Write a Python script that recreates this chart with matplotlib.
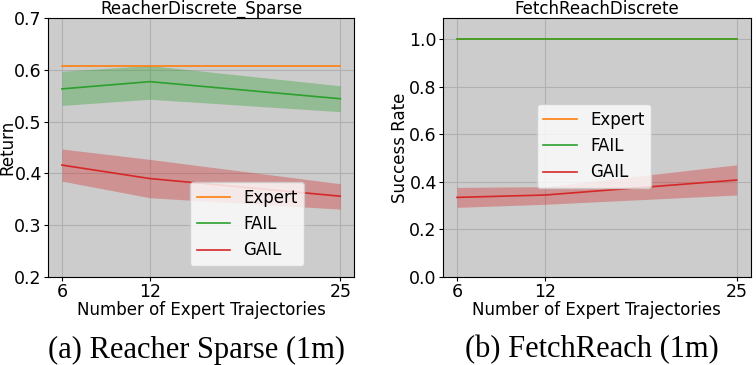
import matplotlib
matplotlib.use("Agg")
import matplotlib.pyplot as plt

# x positions (number of expert trajectories)
N_TRAJ = [6, 12, 25]

# Reacher Sparse (1m)
REACHER_EXPERT = [0.607, 0.607, 0.607]
REACHER_FAIL = [0.563, 0.577, 0.544]
REACHER_FAIL_LO = [0.531, 0.543, 0.519]
REACHER_FAIL_HI = [0.597, 0.608, 0.569]
REACHER_GAIL = [0.416, 0.390, 0.356]
REACHER_GAIL_LO = [0.385, 0.353, 0.331]
REACHER_GAIL_HI = [0.447, 0.427, 0.380]

# FetchReach (1m)
FETCH_EXPERT = [1.0, 1.0, 1.0]
FETCH_FAIL = [1.0, 1.0, 1.0]
FETCH_GAIL = [0.335, 0.345, 0.408]
FETCH_GAIL_LO = [0.293, 0.306, 0.345]
FETCH_GAIL_HI = [0.377, 0.380, 0.472]

ORANGE, GREEN, RED = "#ff7f0e", "#2ca02c", "#d62728"


def style_axes(ax, title, ylabel, label_x):
    ax.set_facecolor("#cccccc")
    ax.grid(True, color="#b0b0b0", linewidth=0.8)
    ax.set_axisbelow(True)
    ax.set_title(title, fontsize=12, pad=2)
    ax.set_ylabel(ylabel, fontsize=12)
    ax.yaxis.set_label_coords(label_x, 0.5)
    ax.set_xlabel("Number of Expert Trajectories", fontsize=12, labelpad=0)
    ax.set_xticks(N_TRAJ)
    ax.tick_params(labelsize=12.5, length=3, pad=1.5)


fig = plt.figure(figsize=(7.56, 3.65), dpi=100)
ax1 = fig.add_axes([0.0635, 0.241, 0.405, 0.710])
ax2 = fig.add_axes([0.586, 0.241, 0.407, 0.710])

# left panel
ax1.plot(N_TRAJ, REACHER_EXPERT, color=ORANGE, lw=1.2, label="Expert")
ax1.plot(N_TRAJ, REACHER_FAIL, color=GREEN, lw=1.2, label="FAIL")
ax1.fill_between(N_TRAJ, REACHER_FAIL_LO, REACHER_FAIL_HI, color=GREEN, alpha=0.35, lw=0)
ax1.plot(N_TRAJ, REACHER_GAIL, color=RED, lw=1.2, label="GAIL")
ax1.fill_between(N_TRAJ, REACHER_GAIL_LO, REACHER_GAIL_HI, color=RED, alpha=0.35, lw=0)
ax1.set_ylim(0.2, 0.7)
style_axes(ax1, "ReacherDiscrete_Sparse", "Return", -0.102)
ax1.legend(loc="lower left", bbox_to_anchor=(0.464, 0.042), borderaxespad=0, fontsize=12)

# right panel
ax2.plot(N_TRAJ, FETCH_EXPERT, color=ORANGE, lw=1.2, label="Expert")
ax2.plot(N_TRAJ, FETCH_FAIL, color=GREEN, lw=1.2, label="FAIL")
ax2.plot(N_TRAJ, FETCH_GAIL, color=RED, lw=1.2, label="GAIL")
ax2.fill_between(N_TRAJ, FETCH_GAIL_LO, FETCH_GAIL_HI, color=RED, alpha=0.35, lw=0)
ax2.set_ylim(0.0, 1.09)
ax2.set_yticks([0.0, 0.2, 0.4, 0.6, 0.8, 1.0])
style_axes(ax2, "FetchReachDiscrete", "Success Rate", -0.112)
ax2.legend(loc="center", bbox_to_anchor=(0.49, 0.505), fontsize=12)

for ax, cap in ((ax1, "(a) Reacher Sparse (1m)"), (ax2, "(b) FetchReach (1m)")):
    pos = ax.get_position()
    fig.text((pos.x0 + pos.x1) / 2 - 0.006, 1 - 350 / 365, cap,
             family="Liberation Serif", fontsize=22, ha="center", va="center")

fig.savefig("out.png", dpi=100)
